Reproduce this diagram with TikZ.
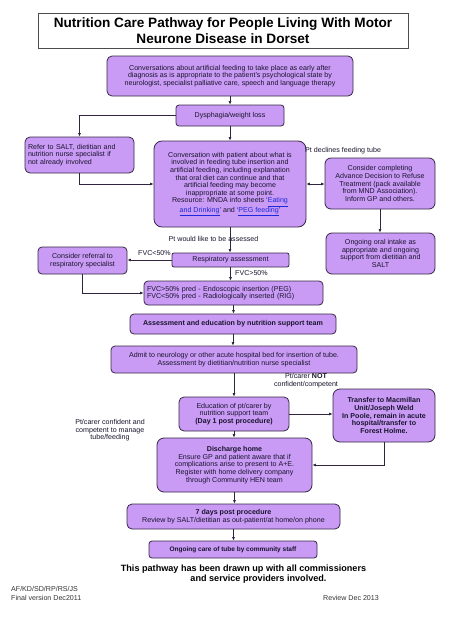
\documentclass[tikz,border=0pt]{standalone}
\usepackage{fontspec}
\setmainfont{Liberation Sans}
\usetikzlibrary{arrows.meta}
\definecolor{boxfill}{RGB}{201,155,245}
\definecolor{boxline}{RGB}{55,40,70}
\definecolor{txt}{RGB}{25,20,45}
\definecolor{linkblue}{RGB}{30,40,220}
\newcommand{\lnk}[1]{\textcolor{linkblue}{\underline{#1}}}
\newcommand{\bodyfont}{\fontsize{7.1}{7.65}\selectfont}
\begin{document}
\begin{tikzpicture}[x=1pt,y=-1pt,
  box/.style={draw=boxline, fill=boxfill, line width=0.8pt, rounded corners=5pt,
    inner sep=2pt, align=center, text=txt, font=\bodyfont},
  lbl/.style={inner sep=0pt, text=txt, font=\bodyfont, align=center},
  arr/.style={draw=boxline!90!black, line width=0.7pt, -{Latex[length=3.5pt,width=3pt]}},
  darr/.style={draw=boxline!90!black, line width=0.7pt, {Latex[length=3.5pt,width=3pt]}-{Latex[length=3.5pt,width=3pt]}}
]
\useasboundingbox[fill=white] (0,0) rectangle (453,640);

% title
\node[draw=black!70, line width=0.8pt, fill=white, minimum width=370pt, minimum height=35pt,
  inner sep=0pt, align=center, font=\fontsize{13.6}{16.5}\selectfont\bfseries] (title) at (223,30.5)
  {Nutrition Care Pathway for People Living With Motor\\Neurone Disease in Dorset};

\node[box, minimum width=246pt, minimum height=40pt] (conv) at (230,76)
  {Conversations about artificial feeding to take place as early after\\
   diagnosis as is appropriate to the patient's psychological state by\\
   neurologist, specialist palliative care, speech and language therapy};

\node[box, rounded corners=3pt, minimum width=108pt, minimum height=21pt] (dys) at (230,115.5)
  {Dysphagia/weight loss};

\node[box, minimum width=109pt, minimum height=36pt, align=left, text width=103pt] (refer) at (79.5,155)
  {Refer to SALT, dietitian and\\nutrition nurse specialist if\\not already involved};

\node[box, rounded corners=8pt, minimum width=152pt, minimum height=86pt] (talk) at (230,184)
  {Conversation with patient about what is\\
   involved in feeding tube insertion and\\
   artificial feeding, including explanation\\
   that oral diet can continue and that\\
   artificial feeding may become\\
   inappropriate at some point.\\
   Resource: MNDA info sheets `\lnk{Eating}\\
   \lnk{and Drinking}' and `\lnk{PEG feeding}'};

\node[box, rounded corners=6pt, minimum width=110pt, minimum height=51pt] (adrt) at (380,183.5)
  {Consider completing\\Advance Decision to Refuse\\Treatment (pack available\\from MND Association).\\Inform GP and others.};

\node[box, rounded corners=6pt, minimum width=109pt, minimum height=41pt] (oral) at (380.5,253.5)
  {Ongoing oral intake as\\appropriate and ongoing\\support from dietitian and\\SALT};

\node[box, rounded corners=2pt, minimum width=117pt, minimum height=14pt, inner sep=1pt] (resp) at (230.5,260)
  {Respiratory assessment};

\node[box, rounded corners=4pt, minimum width=89pt, minimum height=27pt] (refresp) at (82.5,260.5)
  {Consider referral to\\respiratory specialist};

\node[box, rounded corners=4pt, minimum width=179pt, minimum height=24pt, align=left, text width=173pt] (fvc) at (233.5,293)
  {FVC>50\% pred - Endoscopic insertion (PEG)\\FVC<50\% pred - Radiologically inserted (RIG)};

\node[box, rounded corners=4pt, minimum width=206pt, minimum height=20pt, font=\bodyfont\bfseries] (assess) at (233,324)
  {Assessment and education by nutrition support team};

\node[box, rounded corners=4pt, minimum width=246pt, minimum height=27pt] (admit) at (234,359.5)
  {Admit to neurology or other acute hospital bed for insertion of tube.\\
   Assessment by dietitian/nutrition nurse specialist};

\node[box, rounded corners=5pt, minimum width=110pt, minimum height=34pt] (edu) at (234,414)
  {Education of pt/carer by\\nutrition support team\\\textbf{(Day 1 post procedure)}};

\node[box, rounded corners=7pt, minimum width=102pt, minimum height=53pt, font=\bodyfont\bfseries] (transfer) at (384,415.5)
  {Transfer to Macmillan\\Unit/Joseph Weld\\In Poole, remain in acute\\hospital/transfer to\\Forest Holme.};

\node[box, rounded corners=7pt, minimum width=155pt, minimum height=54pt] (discharge) at (234.5,465)
  {\textbf{Discharge home}\\Ensure GP and patient aware that if\\complications arise to present to A+E.\\
   Register with home delivery company\\through Community HEN team};

\node[box, rounded corners=5pt, minimum width=213pt, minimum height=25pt] (seven) at (233.5,516.5)
  {\textbf{7 days post procedure}\\Review by SALT/dietitian as out-patient/at home/on phone};

\node[box, rounded corners=3pt, minimum width=168pt, minimum height=17pt, font=\fontsize{6.5}{7.5}\selectfont\bfseries] (ongoing) at (233,549.5)
  {Ongoing care of tube by community staff};

% labels
\node[lbl, anchor=west] (ldecl) at (305,151) {Pt declines feeding tube};
\node[lbl] (lassess) at (213.5,239) {Pt would like to be assessed};
\node[lbl, anchor=west] (llow) at (138,253) {FVC<50\%};
\node[lbl, anchor=west] (lhigh) at (235,273) {FVC>50\%};
\node[lbl] (lnot) at (306,381) {Pt/carer \textbf{NOT}\\[0.3pt]confident/competent};
\node[lbl] (lconf) at (110,430.5) {Pt/carer confident and\\competent to manage\\tube/feeding};

% connectors
\draw[arr] (conv.south) -- (dys.north);
\draw[arr] (dys.west) -| (refer.north);
\draw[arr] (dys.south) -- (talk.north);
\draw[arr] (refer.south) |- (talk.west);
\draw[darr] (talk.east) -- (talk.east -| adrt.west);
\draw[arr] (adrt.south) -- (adrt.south |- oral.north);
\draw[arr] (talk.south) -- (talk.south |- resp.north);
\draw[arr] (resp.west) -- (resp.west -| refresp.east);
\draw[arr] (resp.south) -- (resp.south |- fvc.north);
\draw[arr] (refresp.south) |- (fvc.west);
\draw[arr] (fvc.south) -- (fvc.south |- assess.north);
\draw[arr] (assess.south) -- (assess.south |- admit.north);
\draw[arr] (admit.south) -- (admit.south |- edu.north);
\draw[arr] (edu.east) -- (edu.east -| transfer.west);
\draw[arr] (edu.south) -- (edu.south |- discharge.north);
\draw[arr] (transfer.south) |- (discharge.east);
\draw[arr] (discharge.south) -- (discharge.south |- seven.north);
\draw[arr] (seven.south) -- (seven.south |- ongoing.north);

% footer
\node[inner sep=0pt, font=\fontsize{9.1}{10}\selectfont\bfseries] (foot1) at (243.5,569)
  {This pathway has been drawn up with all commissioners};
\node[inner sep=0pt, font=\fontsize{9.1}{10}\selectfont\bfseries] (foot2) at (258.5,579.5)
  {and service providers involved.};
\node[inner sep=0pt, anchor=west, font=\fontsize{7.1}{7.6}\selectfont, text=black!80] (ids) at (11,589) {AF/KD/SD/RP/RS/JS};
\node[inner sep=0pt, anchor=west, font=\fontsize{7.1}{7.6}\selectfont, text=black!80] (ver) at (11,598) {Final version Dec2011};
\node[inner sep=0pt, anchor=west, font=\fontsize{7.1}{7.6}\selectfont, text=black!80] (rev) at (323,598) {Review Dec 2013};
\end{tikzpicture}
\end{document}
